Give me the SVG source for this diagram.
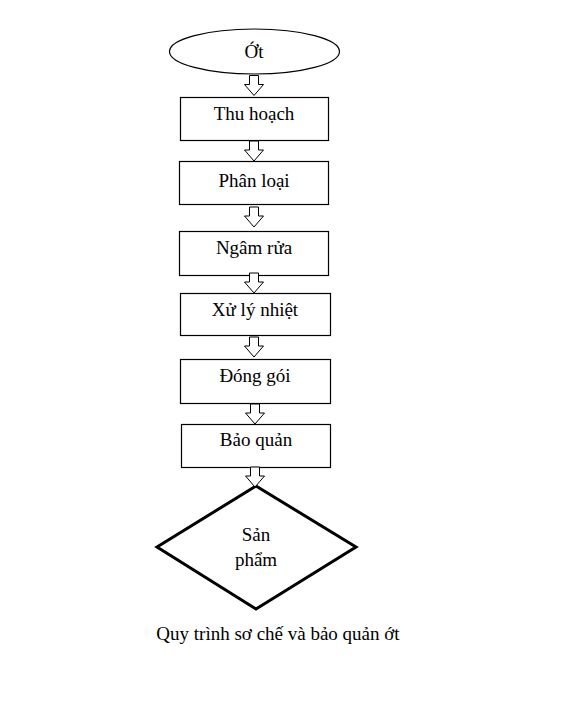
<svg xmlns="http://www.w3.org/2000/svg" width="568" height="712" viewBox="0 0 568 712">
<style>
.box{fill:#fff;stroke:#000;stroke-width:1.2}
.arr{fill:#fff;stroke:#000;stroke-width:1}
text{font-family:"Liberation Serif","Times New Roman",serif;font-size:19px;fill:#000;text-anchor:middle}
</style>
<defs>
<polygon id="ar" class="arr" points="-4.5,0 4.5,0 4.5,9 9.5,9 0,20 -9.5,9 -4.5,9"/>
</defs>
<rect width="568" height="712" fill="#fff"/>
<g id="n0"><ellipse class="box" cx="254.5" cy="51.5" rx="85" ry="22.5"/><text x="254" y="58">Ớt</text></g>
<g id="n1"><rect class="box" x="180.5" y="97.5" width="148" height="43"/><text x="254" y="120">Thu hoạch</text></g>
<g id="n2"><rect class="box" x="179.5" y="161.5" width="149" height="43"/><text x="254" y="187">Phân loại</text></g>
<g id="n3"><rect class="box" x="179.5" y="231.5" width="149" height="44"/><text x="254" y="254">Ngâm rửa</text></g>
<g id="n4"><rect class="box" x="180.5" y="293.5" width="150" height="42"/><text x="255" y="316">Xử lý nhiệt</text></g>
<g id="n5"><rect class="box" x="180.5" y="359.5" width="150" height="44"/><text x="255" y="382">Đóng gói</text></g>
<g id="n6"><rect class="box" x="181.5" y="424.5" width="149" height="43"/><text x="256" y="446">Bảo quản</text></g>
<g id="n7"><polygon points="256,486 356,547 256,609 157,547" fill="#fff" stroke="#000" stroke-width="3" stroke-linejoin="miter"/><text x="256" y="541">Sản</text><text x="256" y="566">phẩm</text></g>
<g id="connectors">
<use href="#ar" x="254" y="75.5"/>
<use href="#ar" x="254" y="141"/>
<use href="#ar" x="254" y="207"/>
<use href="#ar" x="254" y="273"/>
<use href="#ar" x="254" y="337"/>
<use href="#ar" x="255" y="404"/>
<use href="#ar" x="255" y="467"/>
</g>
<text x="278" y="640">Quy trình sơ chế và bảo quản ớt</text>
</svg>
